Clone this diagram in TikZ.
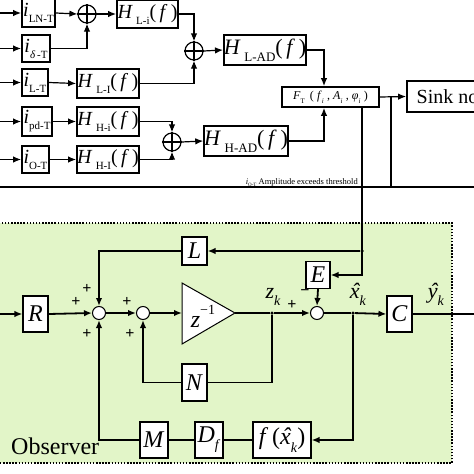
\documentclass[tikz,border=0pt]{standalone}
\usepackage{fontspec}
\setmainfont{Liberation Serif}
\usetikzlibrary{arrows.meta,calc}
\definecolor{obsgreen}{RGB}{226,245,200}
\newcommand{\mysub}[2]{\raisebox{-0.3em}{\fontsize{#1}{#1}\selectfont #2}}
\newcommand{\myhat}[1]{\ooalign{\textit{#1}\cr\hidewidth\kern0.12em\raisebox{0.02em}{\textit{\char"02C6}}\hidewidth\cr}}
\begin{document}
\begin{tikzpicture}[x=1pt,y=-1pt,
  topbox/.style={draw,line width=1.8pt,inner sep=0pt,fill=white,font=\fontsize{20}{20}\selectfont},
  obsbox/.style={draw,line width=1.1pt,inner sep=0pt,fill=white,font=\fontsize{24}{24}\selectfont},
  topline/.style={line width=1.2pt},
  obsline/.style={line width=1.8pt},
  arr/.style={-{Latex[length=8pt,width=6.5pt]}},
  oplus/.style={circle,draw,line width=1.2pt,minimum size=18pt,inner sep=0pt},
  sumc/.style={circle,draw,line width=1pt,fill=white,minimum size=13pt,inner sep=0pt},
  jdot/.style={circle,fill,minimum size=3.5pt,inner sep=0pt},
  sgn/.style={inner sep=0pt,font=\fontsize{16}{16}\selectfont\bfseries},
  lbl/.style={inner sep=0pt,font=\fontsize{22}{22}\selectfont}]
\useasboundingbox (0,0) rectangle (474,474);
\clip (0,0) rectangle (474,474);
% ---------- top part ----------
\node[topbox,minimum width=33pt,minimum height=28pt] (iLN) at (38.5,13) {\textit{i}\mysub{11}{LN-T}};
\node[topbox,minimum width=28pt,minimum height=27pt] (iD) at (36,48.5) {\textit{i}\mysub{11}{\textit{δ}\,-T}};
\node[topbox,minimum width=26pt,minimum height=27pt] (iL) at (35,82.5) {\textit{i}\mysub{11}{L-T}};
\node[topbox,minimum width=30pt,minimum height=29pt] (ipd) at (37,121.5) {\textit{i}\mysub{11}{pd-T}};
\node[topbox,minimum width=27pt,minimum height=27pt] (iO) at (35.5,159.5) {\textit{i}\mysub{11}{O-T}};
\node[oplus] (s1) at (87,14) {};
\node[topbox,minimum width=61pt,minimum height=28pt] (HLi) at (147.5,14) {\textit{H}\,\mysub{11}{L-i}(\,\textit{f}\,)};
\node[topbox,minimum width=62pt,minimum height=29pt] (HLI) at (108,83.5) {\textit{H}\,\mysub{11}{L-I}(\,\textit{f}\,)};
\node[topbox,minimum width=62pt,minimum height=29pt] (HHi) at (108,121.5) {\textit{H}\,\mysub{11}{H-i}(\,\textit{f}\,)};
\node[topbox,minimum width=62pt,minimum height=27pt] (HHI) at (108,159.5) {\textit{H}\,\mysub{11}{H-I}(\,\textit{f}\,)};
\node[oplus] (s2) at (194,51) {};
\node[oplus] (s3) at (172,142) {};
\node[topbox,minimum width=80pt,minimum height=30pt,font=\fontsize{22}{22}\selectfont] (HLAD) at (265,50) {\textit{H}\,\mysub{13}{L-AD}(\,\textit{f}\,)};
\node[topbox,minimum width=82pt,minimum height=30pt,font=\fontsize{22}{22}\selectfont] (HHAD) at (246,141) {\textit{H}\,\mysub{13}{H-AD}(\,\textit{f}\,)};
\node[topbox,minimum width=97pt,minimum height=20pt,font=\fontsize{12}{12}\selectfont] (FT) at (330.5,97)
  {\textit{F}\mysub{7}{T}\, (\;\textit{f}\mysub{7}{\textit{i}}\;, \textit{A}\mysub{7}{\textit{i}}\;, \textit{φ}\mysub{7}{\textit{i}}\;)};
\node[topbox,minimum width=100pt,minimum height=31pt] (sink) at (457,96.5) {Sink node};
\foreach \s in {s1,s2,s3}{
  \draw[topline] (\s.north) -- (\s.south) (\s.west) -- (\s.east);}
\foreach \b in {iLN,iD,iL,ipd,iO}{
  \draw[topline,arr] ([xshift=-24pt]\b.west) -- (\b.west);}
\draw[topline,arr] (iLN.east) -- (s1.west);
\draw[topline,arr] (s1.east) -- (HLi.west);
\draw[topline,arr] (iD.east) -| (s1.south);
\draw[topline,arr] (iL.east) -- (HLI.west);
\draw[topline,arr] (HLi.east) -| (s2.north);
\draw[topline,arr] (HLI.east) -| (s2.south);
\draw[topline,arr] (s2.east) -- (HLAD.west);
\draw[topline,arr] (ipd.east) -- (HHi.west);
\draw[topline,arr] (iO.east) -- (HHI.west);
\draw[topline,arr] (HHi.east) -| (s3.north);
\draw[topline,arr] (HHI.east) -| (s3.south);
\draw[topline,arr] (s3.east) -- (HHAD.west);
\draw[topline,arr] (HLAD.east) -| ([xshift=-6.5pt]FT.north);
\draw[topline,arr] (HHAD.east) -| ([xshift=-6.5pt]FT.south);
\draw[topline,arr] (FT.east) -- (sink.west);
\coordinate (br) at (391,97);
\coordinate (thl) at (0,187);
\coordinate (thr) at (474,187);
\draw[topline] (thl) -- (thr);
\draw[topline] (br) -- (br |- thl);
\node[anchor=base east,inner sep=0pt,font=\fontsize{8.5}{8.5}\selectfont] (thr-text) at (358,184)
  {\textit{i}\mysub{5}{O-T} Amplitude exceeds threshold};
% ---------- observer ----------
\fill[obsgreen] (-5,223) rectangle (452,463);
\draw[line width=1.5pt,dash pattern=on 1.5pt off 1.6pt] (-5,223) rectangle (452,463);
\node[obsbox,minimum width=25pt,minimum height=36pt] (R) at (35.5,314) {\textit{R}};
\node[obsbox,minimum width=25pt,minimum height=28pt] (L) at (194.5,251) {\textit{L}};
\node[obsbox,minimum width=25pt,minimum height=37pt] (N) at (194.5,382.5) {\textit{N}};
\node[obsbox,minimum width=24pt,minimum height=27pt] (E) at (318,275) {\textit{E}};
\node[obsbox,minimum width=25pt,minimum height=36pt] (C) at (399.5,314) {\textit{C}};
\node[obsbox,minimum width=28pt,minimum height=36pt] (M) at (154,440) {\textit{M}};
\node[obsbox,minimum width=28pt,minimum height=36pt] (Df) at (209,440) {\textit{D}\mysub{14}{\textit{f}}};
\node[obsbox,minimum width=58pt,minimum height=36pt] (fx) at (282,440) {\textit{f}\,(\myhat{x}\mysub{14}{\textit{k}})};
\node[sumc] (c1) at (99,313) {};
\node[sumc] (c2) at (143,313) {};
\node[sumc] (c3) at (317,313) {};
\draw[line width=1pt,fill=white] (182,283) -- (235,313) -- (182,344) -- cycle;
\coordinate (triin) at (182,313);
\coordinate (triout) at (235,313);
\node[inner sep=0pt,font=\fontsize{24}{24}\selectfont] (tri) at (203,316) {\textit{z}\raisebox{0.55em}{\fontsize{14}{14}\selectfont −1}};
\coordinate (ftd) at (362,107);
\node[jdot] (jL) at (362,251) {};
\node[jdot] (jz) at (272,313) {};
\node[jdot] (jx) at (353,313) {};
\coordinate (yend) at (474,314);
\draw[obsline,arr] (ftd) |- (E.east);
\draw[obsline,arr] (jL) -- (L.east);
\draw[obsline,arr] (L.west) -| (c1.north);
\draw[obsline,arr] ([xshift=-24pt]R.west) -- (R.west);
\draw[obsline,arr] (R.east) -- (c1.west);
\draw[obsline,arr] (c1.east) -- (c2.west);
\draw[obsline,arr] (c2.east) -- (triin);
\draw[obsline] (triout) -- (jz);
\draw[obsline,arr] (jz) -- (c3.west);
\draw[obsline,arr] (E.south) -- (c3.north);
\draw[obsline] (jz) |- (N.east);
\draw[obsline,arr] (N.west) -| (c2.south);
\draw[obsline] (c3.east) -- (jx);
\draw[obsline,arr] (jx) -- (C.west);
\draw[obsline] (C.east) -- (yend);
\draw[obsline,arr] (jx) |- (fx.east);
\draw[obsline] (fx.west) -- (Df.east);
\draw[obsline] (Df.west) -- (M.east);
\draw[obsline,arr] (M.west) -| (c1.south);
% labels
\node[sgn] at (76,302) {+};
\node[sgn] at (87,289) {+};
\node[sgn] at (87,334) {+};
\node[sgn] at (127,302) {+};
\node[sgn] at (130,334) {+};
\node[sgn] at (292,305) {+};
\node[sgn] at (305,293) {−};
\node[lbl] (zk) at (273,297) {\textit{z}\mysub{14}{\textit{k}}};
\node[lbl] (xk) at (358,297) {\myhat{x}\mysub{14}{\textit{k}}};
\node[lbl] (yk) at (436,297) {\myhat{y}\mysub{14}{\textit{k}}};
\node[anchor=west,inner sep=0pt,font=\fontsize{24}{24}\selectfont] (obs) at (11,446) {Observer};
\end{tikzpicture}
\end{document}
